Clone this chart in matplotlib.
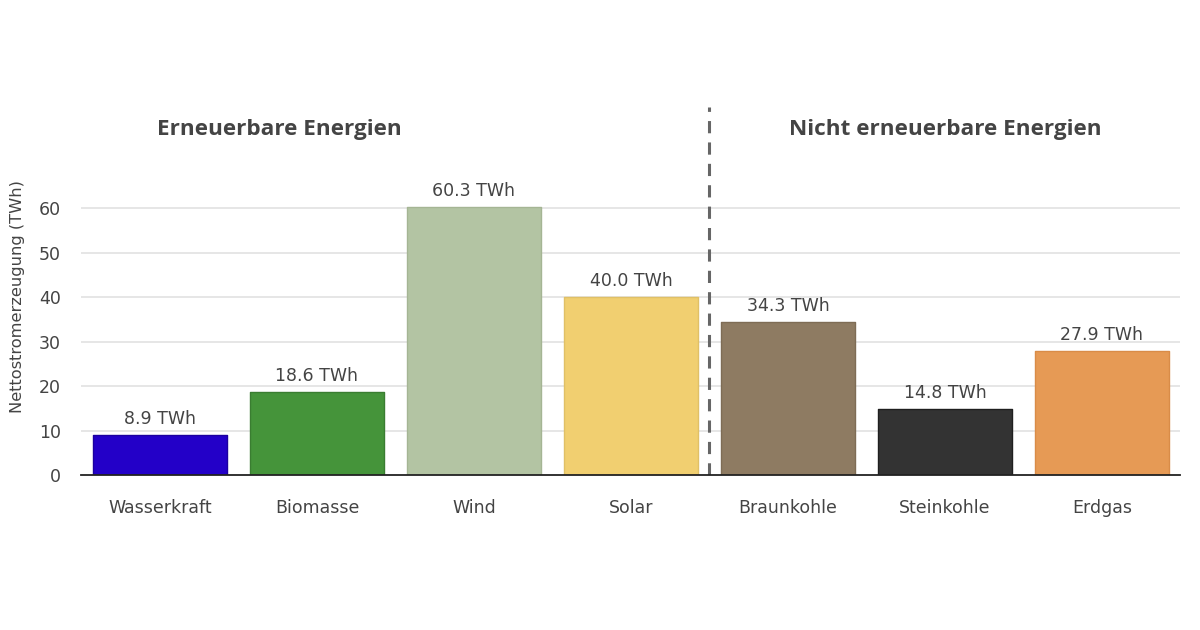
import matplotlib
matplotlib.use("Agg")
import matplotlib.pyplot as plt
import numpy as np

# data
categories = ['Wasserkraft', 'Biomasse', 'Wind', 'Solar', 'Braunkohle', 'Steinkohle', 'Erdgas']
values = [8.9, 18.6, 60.3, 40.0, 34.3, 14.8, 27.9]
colors = ['#2300c8', '#45943a', '#b3c4a3', '#f1cf70', '#8e7b62', '#333333', '#e69a55']
edges = ['#1c00a0', '#3a7d31', '#a5b594', '#e0c066', '#7e6c55', '#1f1f1f', '#d98c48']
yticks = [0, 10, 20, 30, 40, 50, 60]
group_titles = ['Erneuerbare Energien', 'Nicht erneuerbare Energien']
group_title_x = [0.76, 5.0]

txt = '#444444'

fig = plt.figure(figsize=(12, 6.3), dpi=100)
ax = fig.add_axes([0.0679, 0.246, 0.9158, 0.584])

x = np.arange(len(categories))
ax.bar(x, values, width=0.85, color=colors, edgecolor=edges, linewidth=1.0,
       joinstyle='round', zorder=3)

for xi, v in zip(x, values):
    ax.annotate(f'{v:.1f} TWh', (xi, v), xytext=(0, 5), textcoords='offset points',
                ha='center', va='bottom', fontsize=12.5, color=txt,
                family='DejaVu Sans')

ax.set_xlim(-0.5, len(categories) - 0.5)
ax.set_ylim(0, 82.7)
ax.set_yticks(yticks)
ax.set_yticklabels([str(t) for t in yticks])
ax.set_xticks(x)
ax.set_xticklabels(categories)
ax.tick_params(axis='both', length=0, labelsize=12.5, labelcolor=txt)
ax.tick_params(axis='y', pad=15)
ax.tick_params(axis='x', pad=17.5)

for t in yticks[1:]:
    ax.axhline(t, color='#e2e2e2', linewidth=1.2, zorder=1)

for s in ['top', 'right', 'left']:
    ax.spines[s].set_visible(False)
ax.spines['bottom'].set_color('#222222')
ax.spines['bottom'].set_linewidth(1.3)
ax.spines['bottom'].set_zorder(4)

# separator between the two groups
ax.axvline(3.5, ymin=0, ymax=1, color='#666666', linewidth=2.2,
           linestyle=(0, (4, 3)), zorder=2)

for tx, title in zip(group_title_x, group_titles):
    ax.text(tx, 77.6, title, ha='center', va='center', fontsize=16.2,
            fontweight='bold', color='#444444', family='Open Sans')

fig.text(0.015, 0.53, 'Nettostromerzeugung (TWh)', rotation=90, ha='center',
         va='center', fontsize=11.7, color=txt)

fig.savefig('out.png', dpi=100, facecolor='white')
